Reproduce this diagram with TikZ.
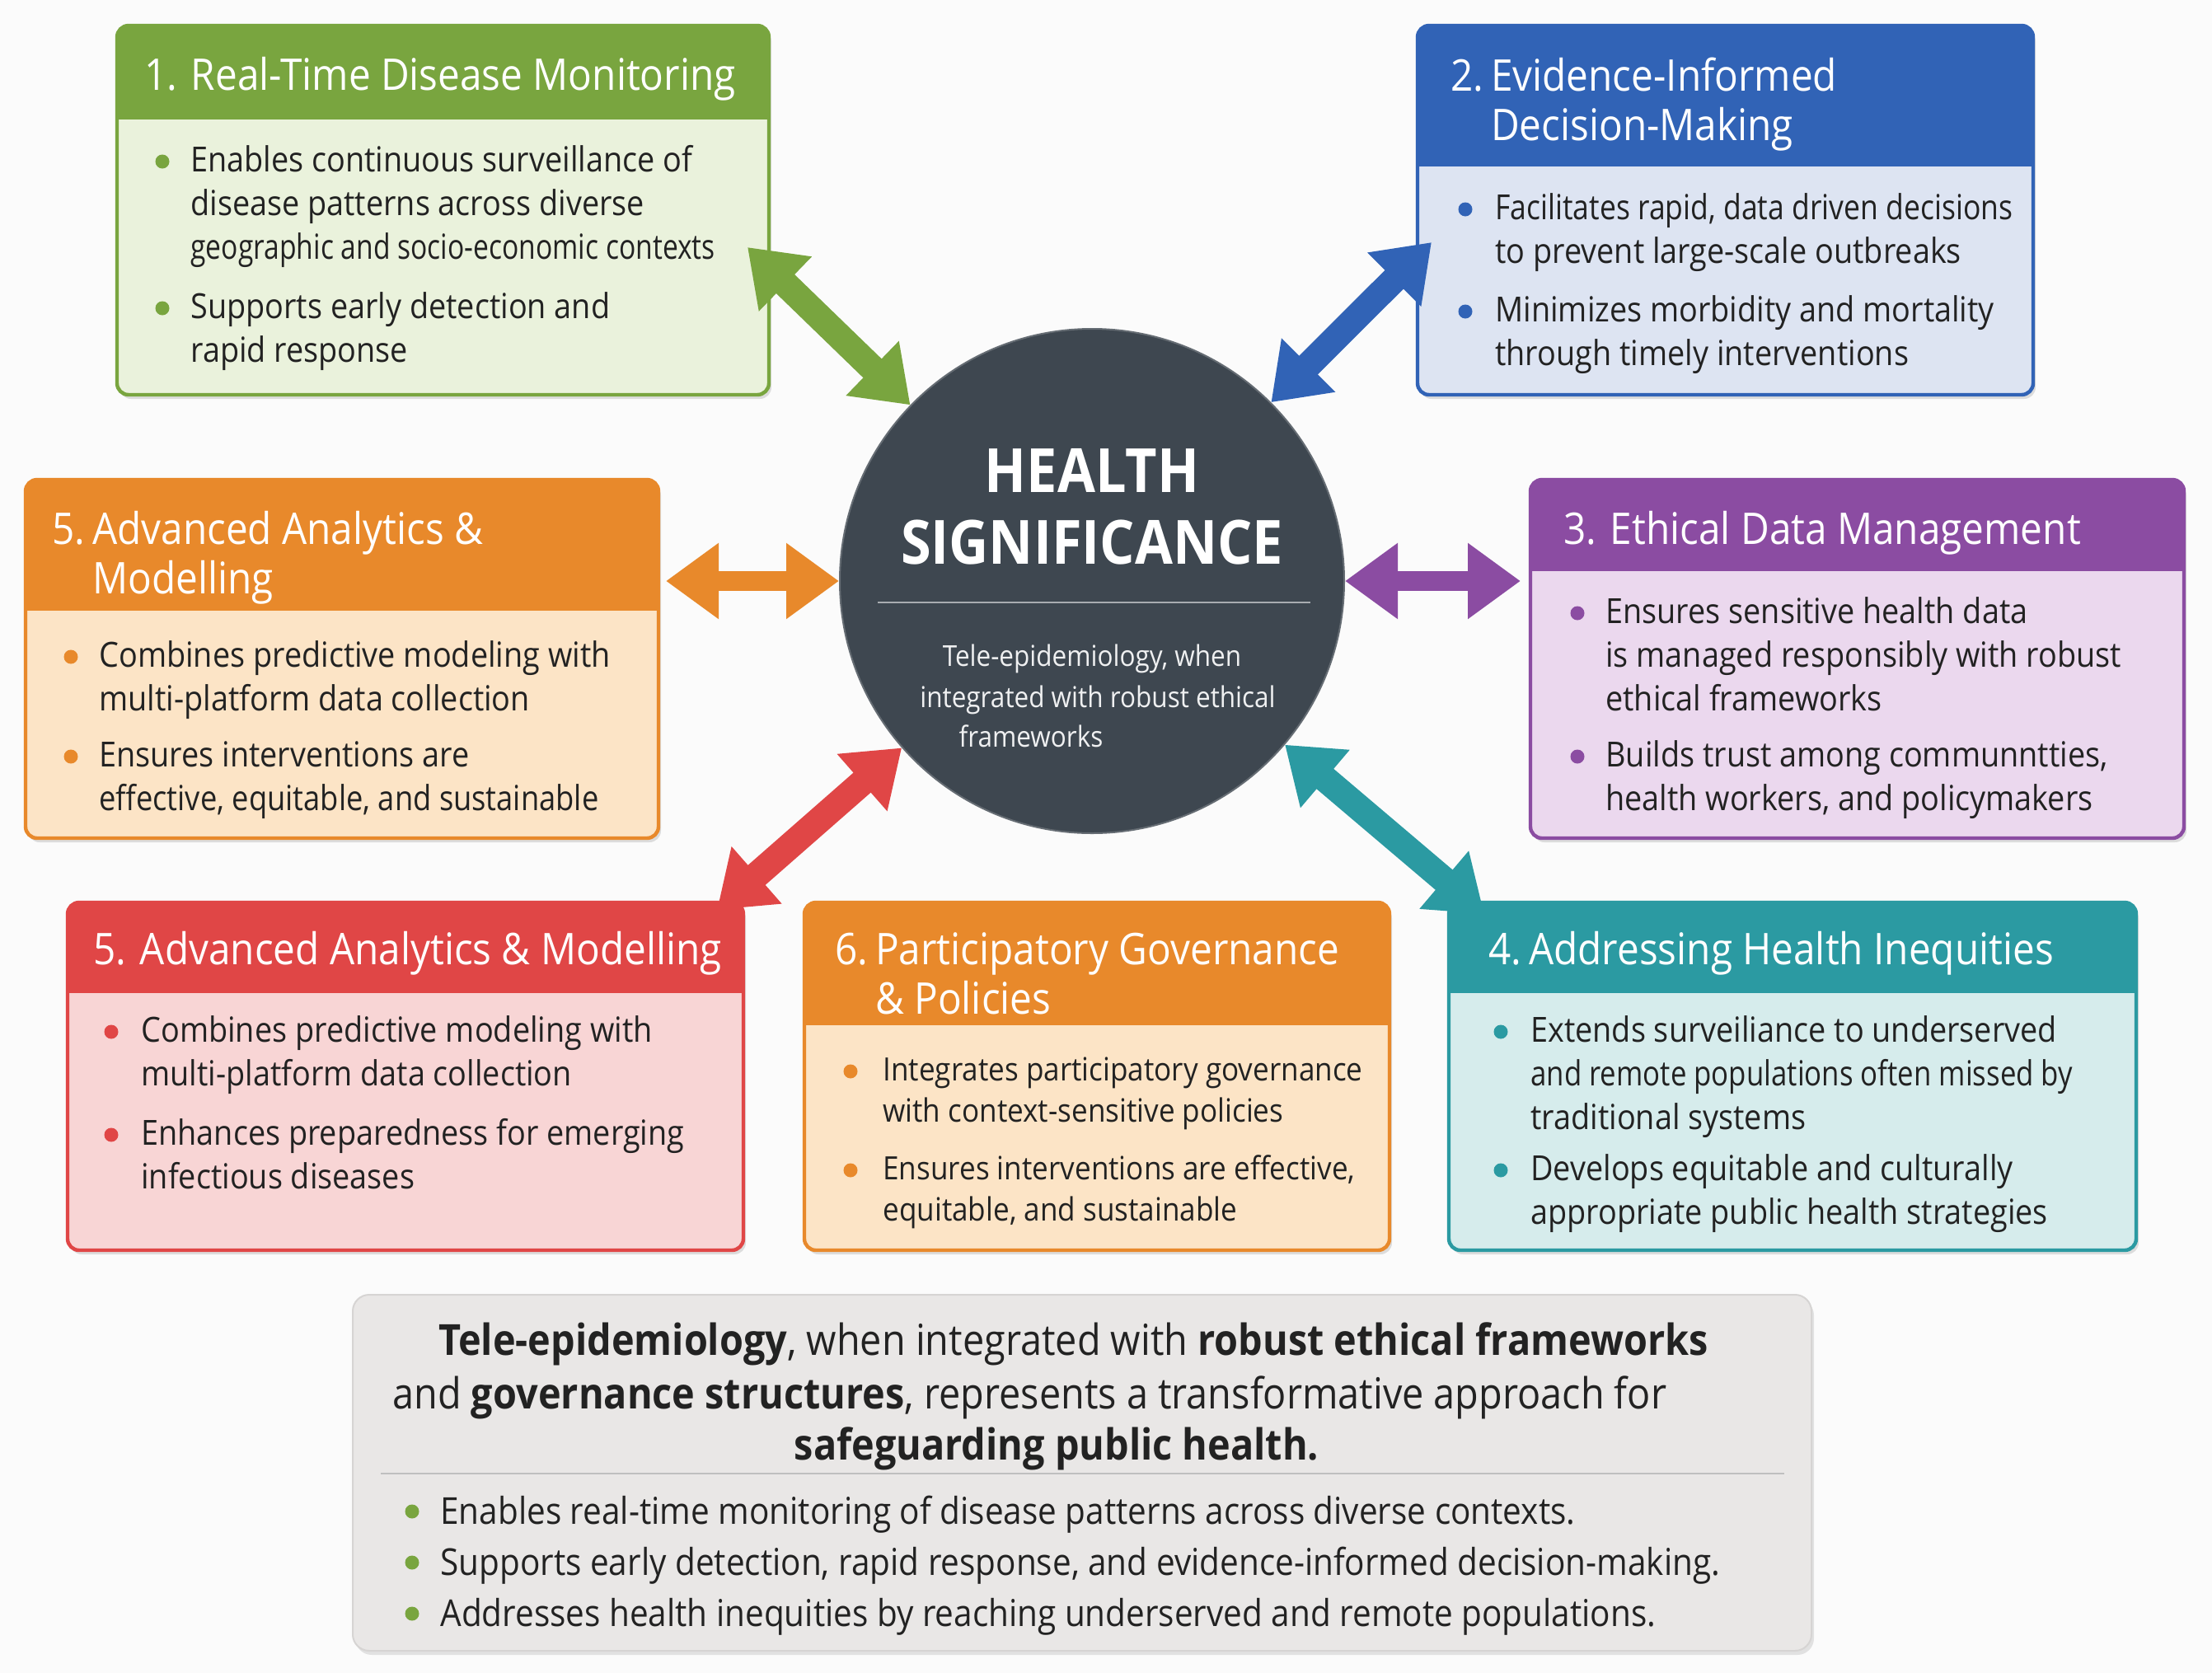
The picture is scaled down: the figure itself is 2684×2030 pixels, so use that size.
\documentclass[tikz,border=0pt]{standalone}
\usepackage{fontspec}
\setmainfont{Open Sans}[FakeStretch=0.9]
\usetikzlibrary{arrows.meta}

\definecolor{gH}{HTML}{79A53F}\definecolor{gL}{HTML}{EAF2DC}
\definecolor{bH}{HTML}{3163B6}\definecolor{bL}{HTML}{DDE4F2}
\definecolor{oH}{HTML}{E8892B}\definecolor{oL}{HTML}{FCE4C6}
\definecolor{pH}{HTML}{8B4CA2}\definecolor{pL}{HTML}{EBD8EE}
\definecolor{rH}{HTML}{E04646}\definecolor{rL}{HTML}{F8D5D5}
\definecolor{tH}{HTML}{2B9AA2}\definecolor{tL}{HTML}{D6ECEC}
\definecolor{hubc}{HTML}{3E4750}
\definecolor{grayL}{HTML}{E9E7E6}
\definecolor{grayB}{HTML}{D6D4D3}
\definecolor{txt}{HTML}{222222}
\definecolor{bg}{HTML}{FBFBFB}

\newcommand\colbox[7]{%
  \fill[black, opacity=0.12, rounded corners=7pt] (#1+3,#2+5) rectangle (#3+3,#4+5);
  \fill[#7, rounded corners=7pt] (#1,#2) rectangle (#3,#4);
  \begin{scope}
    \clip[rounded corners=7pt] (#1,#2) rectangle (#3,#4);
    \fill[#6] (#1,#2) rectangle (#3,#5);
  \end{scope}
  \draw[#6, line width=2.2pt, rounded corners=7pt] (#1,#2) rectangle (#3,#4);
}
\newcommand\lns[1]{\begin{tabular}[t]{@{}l@{}}#1\end{tabular}}
\newcommand\hng[3]{\begin{tabular}[t]{@{}l@{\,}l@{}}#1 & #2\\ & #3\end{tabular}}
\newcommand\sq[2]{\scalebox{#1}[1]{#2}}

\tikzset{
  head/.style={anchor=base west, inner sep=0, text=white, font=\fontsize{26.5}{30}\selectfont},
  body/.style={anchor=base west, inner sep=0, text=txt, font=\fontsize{21}{26.5}\selectfont},
  bodys/.style={body, font=\fontsize{19.5}{25}\selectfont},
  dot/.style={circle, inner sep=0, minimum size=8.5pt},
  link/.style={line width=16pt, {Triangle[length=32pt,width=44pt]}-{Triangle[length=32pt,width=44pt]}},
}

\begin{document}
\begin{tikzpicture}[x=0.5pt, y=-0.5pt]
\useasboundingbox (0,0) rectangle (2684,2030);
\fill[bg] (0,0) rectangle (2684,2030);

% boxes
\colbox{142}{31}{933}{479}{145}{gH}{gL}
\colbox{1720}{31}{2467}{479}{202}{bH}{bL}
\colbox{31}{582}{799}{1017}{741}{oH}{oL}
\colbox{1857}{582}{2650}{1017}{693}{pH}{pL}
\colbox{82}{1095}{902}{1517}{1205}{rH}{rL}
\colbox{976}{1095}{1686}{1517}{1244}{oH}{oL}
\colbox{1758}{1095}{2592}{1517}{1205}{tH}{tL}

% box 1
\node[head] (h1) at (175,109) {1. Real-Time Disease Monitoring};
\node[dot, fill=gH] (d11) at (197,196) {};
\node[body] (t11) at (231,208) {\lns{Enables continuous surveillance of\\disease patterns across diverse\\\sq{0.89}{geographic and socio-economic contexts}}};
\node[dot, fill=gH] (d12) at (197,374) {};
\node[body] (t12) at (231,386) {\lns{Supports early detection and\\rapid response}};

% box 2
\node[head] (h2) at (1760,110) {\hng{2.}{Evidence-Informed}{Decision-Making}};
\node[dot, fill=bH] (d21) at (1778,254) {};
\node[body] (t21) at (1814,266) {\lns{\sq{0.94}{Facilitates rapid, data driven decisions}\\to prevent large-scale outbreaks}};
\node[dot, fill=bH] (d22) at (1778,378) {};
\node[body] (t22) at (1814,390) {\lns{Minimizes morbidity and mortality\\through timely interventions}};

% box 5 (orange, left)
\node[head] (h5) at (63,660) {\hng{5.}{Advanced Analytics \&}{Modelling}};
\node[dot, fill=oH] (d51) at (86,797) {};
\node[body] (t51) at (120,809) {\lns{Combines predictive modeling with\\multi-platform data collection}};
\node[dot, fill=oH] (d52) at (86,918) {};
\node[body] (t52) at (120,930) {\lns{Ensures interventions are\\\sq{0.96}{effective, equitable, and sustainable}}};

% box 3
\node[head] (h3) at (1897,660) {3. Ethical Data Management};
\node[dot, fill=pH] (d31) at (1914,744) {};
\node[body] (t31) at (1948,756) {\lns{Ensures sensitive health data\\is managed responsibly with robust\\ethical frameworks}};
\node[dot, fill=pH] (d32) at (1914,918) {};
\node[body] (t32) at (1948,930) {\lns{Builds trust among communntties,\\health workers, and policymakers}};

% box 5 (red)
\node[head] (h5r) at (113,1170) {5. Advanced Analytics \& Modelling};
\node[dot, fill=rH] (dr1) at (135,1252) {};
\node[body] (tr1) at (171,1264) {\lns{Combines predictive modeling with\\multi-platform data collection}};
\node[dot, fill=rH] (dr2) at (135,1377) {};
\node[body] (tr2) at (171,1389) {\lns{Enhances preparedness for emerging\\infectious diseases}};

% box 6
\node[head] (h6) at (1013,1170) {\hng{6.}{Participatory Governance}{\& Policies}};
\node[dot, fill=oH] (d61) at (1032,1300) {};
\node[bodys] (t61) at (1071,1311) {\lns{Integrates participatory governance\\with context-sensitive policies}};
\node[dot, fill=oH] (d62) at (1032,1420) {};
\node[bodys] (t62) at (1071,1431) {\lns{Ensures interventions are effective,\\equitable, and sustainable}};

% box 4
\node[head] (h4) at (1806,1170) {4.\,Addressing Health Inequities};
\node[dot, fill=tH] (d41) at (1821,1252) {};
\node[body] (t41) at (1857,1264) {\lns{Extends surveiliance to underserved\\\sq{0.92}{and remote populations often missed by}\\traditional systems}};
\node[dot, fill=tH] (d42) at (1821,1420) {};
\node[body] (t42) at (1857,1432) {\lns{Develops equitable and culturally\\appropriate public health strategies}};

% hub
\node[circle, fill=hubc, draw=hubc!80!white, line width=1pt, minimum size=306pt, inner sep=0] (hub) at (1325,705) {};
\node[anchor=base, inner sep=0, text=white, font=\bfseries\fontsize{37}{40}\selectfont] (ht1) at (1325,597) {HEALTH};
\node[anchor=base, inner sep=0, text=white, font=\bfseries\fontsize{37}{40}\selectfont] (ht2) at (1325,684) {SIGNIFICANCE};
\draw[white!55!hubc, line width=1.3pt] (1065,731) -- (1590,731);
\node[anchor=base, inner sep=0, text=white!92!hubc, font=\fontsize{17.5}{25}\selectfont] (hs1) at (1325,808) {Tele-epidemiology, when};
\node[anchor=base, inner sep=0, text=white!92!hubc, font=\fontsize{17.5}{25}\selectfont] (hs2) at (1332,858) {integrated with robust ethical};
\node[anchor=base, inner sep=0, text=white!92!hubc, font=\fontsize{17.5}{25}\selectfont] (hs3) at (1251,906) {frameworks};

% arrows
\coordinate (ag) at (907,300);
\coordinate (ab) at (1737,294);
\coordinate (ao) at (808,705);
\coordinate (ap) at (1845,705);
\coordinate (ar) at (870,1104);
\coordinate (at) at (1801,1109);
\draw[link, gH] (ag) -- (hub);
\draw[link, bH] (ab) -- (hub);
\draw[link, oH, line width=12pt] (ao) -- (hub);
\draw[link, pH, line width=12pt] (ap) -- (hub);
\draw[link, rH] (ar) -- (hub);
\draw[link, tH] (at) -- (hub);

% bottom summary box
\fill[black, opacity=0.10, rounded corners=10pt] (431,1576) rectangle (2201,2008);
\draw[grayB, fill=grayL, line width=1pt, rounded corners=10pt] (428,1571) rectangle (2198,2003);
\node[anchor=base west, inner sep=0, text=txt, font=\fontsize{26}{32}\selectfont] (s1) at (532,1644) {\textbf{Tele-epidemiology}, when integrated with \textbf{robust ethical frameworks}};
\node[anchor=base west, inner sep=0, text=txt, font=\fontsize{26}{32}\selectfont] (s2) at (476,1709) {and \textbf{governance structures}, represents a transformative approach for};
\node[anchor=base, inner sep=0, text=txt, font=\fontsize{26}{32}\selectfont] (s3) at (1282,1771) {\textbf{safeguarding public health.}};
\draw[black!25, line width=1pt] (462,1788) -- (2165,1788);
\node[dot, fill=gH] (sd1) at (500,1834) {};
\node[anchor=base west, inner sep=0, text=txt, font=\fontsize{22.5}{28}\selectfont] (sb1) at (534,1849) {Enables real-time monitoring of disease patterns across diverse contexts.};
\node[dot, fill=gH] (sd2) at (500,1896) {};
\node[anchor=base west, inner sep=0, text=txt, font=\fontsize{22.5}{28}\selectfont] (sb2) at (534,1911) {Supports early detection, rapid response, and evidence-informed decision-making.};
\node[dot, fill=gH] (sd3) at (500,1958) {};
\node[anchor=base west, inner sep=0, text=txt, font=\fontsize{22.5}{28}\selectfont] (sb3) at (534,1973) {Addresses health inequities by reaching underserved and remote populations.};
\end{tikzpicture}
\end{document}
